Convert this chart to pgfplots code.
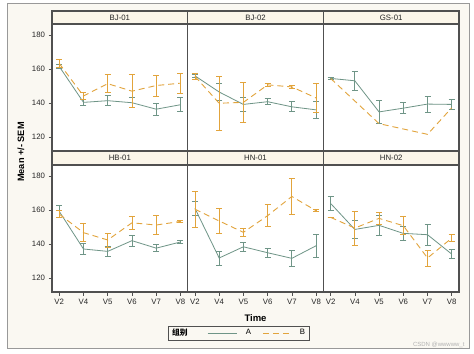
\documentclass[border=0pt]{standalone}
\usepackage{pgfplots}
\usepackage{pgfplotstable}
\pgfplotsset{compat=1.18}
\usepackage{fontspec}
\setmainfont{Liberation Sans}
\newfontfamily\cjk{Noto Sans CJK SC}
\definecolor{cA}{HTML}{6F9587}
\definecolor{cB}{HTML}{E2A43C}
\definecolor{frameBg}{HTML}{FAF8F2}
\definecolor{hdr}{HTML}{FBF6EA}
\definecolor{axc}{HTML}{505050}

% x: 0=V2,1=V4,2=V5,3=V6,4=V7,5=V8
\pgfplotstableread{
x A Ae B Be
0 161.5 1.2 163.3 2.2
1 140.4 2.0 144.2 1.8
2 141.4 3.0 151.4 5.4
3 140.2 3.0 147.0 9.6
4 136.4 3.6 150.3 6.2
5 139.0 4.2 151.7 5.8
}\tBJa
\pgfplotstableread{
x A Ae B Be
0 156.0 1.0 155.7 2.0
1 146.5 4.8 139.9 15.7
2 139.2 4.0 140.4 11.7
3 140.8 1.7 150.7 0.7
4 137.8 3.0 149.5 1.0
5 136.0 4.8 143.0 8.5
}\tBJb
\pgfplotstableread{
x A Ae B
0 154.5 0.5 154.5
1 153.1 5.8 nan
2 134.8 6.7 127.9
3 137.0 3.1 nan
4 139.4 4.7 121.6
5 139.2 2.8 137.2
}\tGS
\pgfplotstableread{
x A Ae B Be
0 159.2 3.7 157.6 2.2
1 137.1 3.2 146.7 5.4
2 135.7 3.0 142.4 4.1
3 142.0 3.2 152.5 3.8
4 137.6 2.0 151.2 5.4
5 141.2 1.1 153.3 0.6
}\tHB
\pgfplotstableread{
x A Ae B Be
0 161.0 4.0 160.5 10.5
1 131.8 4.1 153.6 7.3
2 138.4 2.6 146.9 2.5
3 134.9 2.7 156.7 6.5
4 131.6 4.5 168.0 10.8
5 139.0 6.6 159.6 0.5
}\tHNa
\pgfplotstableread{
x A Ae B Be
0 163.9 3.9 155.7 0.0
1 148.6 5.1 149.4 10.0
2 151.0 5.7 155.1 3.7
3 146.3 4.3 150.8 5.3
4 145.5 6.3 131.8 4.7
5 134.1 2.7 143.5 2.2
}\tHNb

\pgfplotsset{
  panel/.style={scale only axis, width=135.67bp, height=127bp,
    anchor=north west,
    xmin=-0.3, xmax=5.3, ymin=111.8, ymax=186.5,
    axis line style={axc, line width=1.3bp},
    axis background/.style={fill=white},
    xtick=\empty, ytick=\empty,
    tick align=outside, major tick length=3.5bp,
    tick style={axc, line width=0.6bp},
    xtick pos=bottom, ytick pos=left,
    ticklabel style={font=\fontsize{7.8bp}{9bp}\selectfont, text=black!85},
    /pgf/number format/assume math mode=true,
    clip=false},
  leftcol/.style={ytick={120,140,160,180}},
  botrow/.style={xtick={0,...,5}, xticklabels={V2,V4,V5,V6,V7,V8}},
  serA/.style={cA, line width=0.8bp, no markers,
    error bars/y dir=both, error bars/y explicit,
    error bars/error bar style={cA, line width=0.8bp, solid},
    error bars/error mark options={cA, rotate=90, mark size=3bp, line width=0.8bp, solid}},
  serB/.style={cB, line width=0.9bp, no markers, dash pattern=on 6bp off 4bp,
    error bars/y dir=both, error bars/y explicit,
    error bars/error bar style={cB, line width=0.8bp, solid},
    error bars/error mark options={cB, rotate=90, mark size=3bp, line width=0.8bp, solid}},
  serBn/.style={cB, line width=0.9bp, no markers, dash pattern=on 6bp off 4bp},
}

\begin{document}
\begin{tikzpicture}[x=1bp,y=1bp]
\fill[white] (0,0) rectangle (474,353);
\draw[black!40, line width=0.8bp, fill=frameBg] (7,5) rectangle (469,350);

% Row 1
\begin{axis}[panel, leftcol, at={(52bp,329bp)}]
\addplot[serA] table[x=x, y=A, y error=Ae]{\tBJa};
\addplot[serB] table[x=x, y=B, y error=Be]{\tBJa};
\end{axis}
\begin{axis}[panel, at={(187.67bp,329bp)}]
\addplot[serA] table[x=x, y=A, y error=Ae]{\tBJb};
\addplot[serB] table[x=x, y=B, y error=Be]{\tBJb};
\end{axis}
\begin{axis}[panel, at={(323.33bp,329bp)}]
\addplot[serA] table[x=x, y=A, y error=Ae]{\tGS};
\addplot[serBn, unbounded coords=discard] table[x=x, y=B]{\tGS};
\end{axis}

% Row 2
\begin{axis}[panel, leftcol, botrow, at={(52bp,188bp)}]
\addplot[serA] table[x=x, y=A, y error=Ae]{\tHB};
\addplot[serB] table[x=x, y=B, y error=Be]{\tHB};
\end{axis}
\begin{axis}[panel, botrow, at={(187.67bp,188bp)},
  legend columns=3,
  legend style={at={(0.378,-0.323)}, anchor=center, draw=axc, line width=0.6bp,
    fill=frameBg, font=\fontsize{7.8bp}{9bp}\selectfont, inner xsep=2bp, inner ysep=1bp,
    /tikz/every even column/.append style={column sep=0bp}},
  legend image code/.code={\draw[#1] (0bp,0bp) -- (29bp,0bp);}]
\addplot[serA, forget plot] table[x=x, y=A, y error=Ae]{\tHNa};
\addplot[serB, forget plot] table[x=x, y=B, y error=Be]{\tHNa};
\addlegendimage{empty legend}
\addlegendentry{\makebox[33bp][l]{\cjk\bfseries 组别}}
\addlegendimage{cA, line width=0.8bp}
\addlegendentry{\makebox[22bp][l]{\kern7bp A}}
\addlegendimage{cB, line width=0.9bp, dash pattern=on 6bp off 4bp}
\addlegendentry{\makebox[11bp][l]{\kern5bp B}}
\end{axis}
\begin{axis}[panel, botrow, at={(323.33bp,188bp)}]
\addplot[serA] table[x=x, y=A, y error=Ae]{\tHNb};
\addplot[serB] table[x=x, y=B, y error=Be]{\tHNb};
\end{axis}

% Headers
\begin{scope}[font=\fontsize{7.8bp}{9bp}\selectfont]
\draw[axc, line width=1.3bp, fill=hdr] (52,342) rectangle (187.67,329) node[midway, text=black!85]{BJ-01};
\draw[axc, line width=1.3bp, fill=hdr] (187.67,342) rectangle (323.33,329) node[midway, text=black!85]{BJ-02};
\draw[axc, line width=1.3bp, fill=hdr] (323.33,342) rectangle (459,329) node[midway, text=black!85]{GS-01};
\draw[axc, line width=1.3bp, fill=hdr] (52,202) rectangle (187.67,188) node[midway, text=black!85]{HB-01};
\draw[axc, line width=1.3bp, fill=hdr] (187.67,202) rectangle (323.33,188) node[midway, text=black!85]{HN-01};
\draw[axc, line width=1.3bp, fill=hdr] (323.33,202) rectangle (459,188) node[midway, text=black!85]{HN-02};
\end{scope}

\node[rotate=90, font=\bfseries\fontsize{9.2bp}{11bp}\selectfont] at (21,201) {Mean +/- SEM};
\node[font=\bfseries\fontsize{9.5bp}{11bp}\selectfont] at (255.5,35) {Time};
\node[anchor=east, text=black!30, font=\fontsize{6bp}{7bp}\selectfont] at (468,8) {CSDN @wwwww\_t};
\end{tikzpicture}
\end{document}
